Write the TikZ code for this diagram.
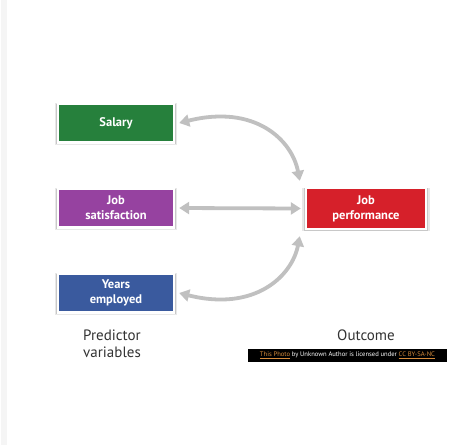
\documentclass[tikz,border=0pt]{standalone}
\usepackage{fontspec}
\setmainfont{PT Sans}
\usetikzlibrary{shadows,arrows.meta}
\definecolor{sgreen}{RGB}{38,128,60}
\definecolor{spurple}{RGB}{150,66,160}
\definecolor{sblue}{RGB}{58,90,158}
\definecolor{sred}{RGB}{214,32,42}
\definecolor{arrgray}{RGB}{192,192,192}
\definecolor{linkor}{RGB}{214,140,60}
\begin{document}
\begin{tikzpicture}[x=1pt,y=-1pt,
  box/.style={draw=white, line width=2.4pt, minimum width=116pt, minimum height=39pt,
    text=white, align=center, font=\bfseries\fontsize{12.5}{15}\selectfont,
    general shadow={fill=gray, opacity=0.18, shadow scale=1.06, shadow yshift=-1pt},
    general shadow={fill=gray, opacity=0.3, shadow scale=1.03, shadow yshift=-1pt}},
  conn/.style={draw=arrgray, line width=3.8pt,
    {Triangle[width=12pt,length=10pt]}-{Triangle[width=12pt,length=10pt]}},
  label/.style={font=\fontsize{15}{17}\selectfont, text=black!80, align=left}]
\useasboundingbox (0,0) rectangle (474,445);
\fill[white] (0,0) rectangle (474,445);
\fill[black!4] (1,0) rectangle (7,445);
\node[box, fill=sgreen] (sal) at (116,123) {Salary};
\node[box, fill=spurple] (sat) at (116,208) {Job\\satisfaction};
\node[box, fill=sblue] (yrs) at (116,293) {Years\\employed};
\node[box, fill=sred, minimum width=120pt, minimum height=41pt] (perf) at (366,208.5) {Job\\performance};
\coordinate (ptop) at ([xshift=-5pt,yshift=6pt]perf.north west);
\coordinate (pbot) at ([xshift=-5pt,yshift=-6pt]perf.south west);
\draw[conn] ([xshift=4pt]sal.east) .. controls (255,104) and (292,140) .. (ptop);
\draw[conn] ([xshift=4pt]sat.east) -- ([xshift=-4pt]perf.west);
\draw[conn] ([xshift=4pt]yrs.east) .. controls (255,312) and (292,276) .. (pbot);
\node[label, anchor=north west, inner sep=0pt] (pred) at (83,330) {Predictor\\variables};
\node[label, anchor=north, inner sep=0pt] (out) at (366,330) {Outcome};
\node[fill=black, minimum width=199pt, minimum height=13pt, inner sep=0pt,
  text=white, font=\fontsize{6.6}{7}\selectfont] (attr) at (347.5,355.5)
  {\textcolor{linkor}{\underline{This Photo}} by Unknown Author is licensed under \textcolor{linkor}{\underline{CC BY-SA-NC}}};
\end{tikzpicture}
\end{document}
